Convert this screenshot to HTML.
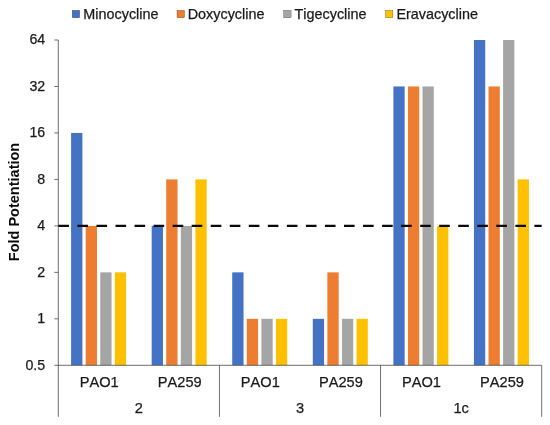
<!DOCTYPE html><html><head><meta charset="utf-8"><title>Fold Potentiation</title><style>html,body{margin:0;padding:0;background:#fff}svg{display:block}</style></head><body><svg width="550" height="425" viewBox="0 0 550 425" font-kerning="none" style="font-kerning:none" font-family="'Liberation Sans', sans-serif">
<rect width="550" height="425" fill="#fff"/>
<rect x="71.10" y="132.94" width="11.3" height="232.36" fill="#4472C4"/>
<rect x="85.67" y="225.89" width="11.3" height="139.41" fill="#ED7D31"/>
<rect x="100.24" y="272.36" width="11.3" height="92.94" fill="#A5A5A5"/>
<rect x="114.81" y="272.36" width="11.3" height="92.94" fill="#FFC000"/>
<rect x="151.67" y="225.89" width="11.3" height="139.41" fill="#4472C4"/>
<rect x="166.24" y="179.41" width="11.3" height="185.89" fill="#ED7D31"/>
<rect x="180.81" y="225.89" width="11.3" height="139.41" fill="#A5A5A5"/>
<rect x="195.38" y="179.41" width="11.3" height="185.89" fill="#FFC000"/>
<rect x="232.23" y="272.36" width="11.3" height="92.94" fill="#4472C4"/>
<rect x="246.80" y="318.83" width="11.3" height="46.47" fill="#ED7D31"/>
<rect x="261.37" y="318.83" width="11.3" height="46.47" fill="#A5A5A5"/>
<rect x="275.94" y="318.83" width="11.3" height="46.47" fill="#FFC000"/>
<rect x="312.80" y="318.83" width="11.3" height="46.47" fill="#4472C4"/>
<rect x="327.37" y="272.36" width="11.3" height="92.94" fill="#ED7D31"/>
<rect x="341.94" y="318.83" width="11.3" height="46.47" fill="#A5A5A5"/>
<rect x="356.51" y="318.83" width="11.3" height="46.47" fill="#FFC000"/>
<rect x="393.37" y="86.47" width="11.3" height="278.83" fill="#4472C4"/>
<rect x="407.94" y="86.47" width="11.3" height="278.83" fill="#ED7D31"/>
<rect x="422.51" y="86.47" width="11.3" height="278.83" fill="#A5A5A5"/>
<rect x="437.08" y="225.89" width="11.3" height="139.41" fill="#FFC000"/>
<rect x="473.93" y="40.00" width="11.3" height="325.30" fill="#4472C4"/>
<rect x="488.50" y="86.47" width="11.3" height="278.83" fill="#ED7D31"/>
<rect x="503.07" y="40.00" width="11.3" height="325.30" fill="#A5A5A5"/>
<rect x="517.64" y="179.41" width="11.3" height="185.89" fill="#FFC000"/>
<g stroke="#4a4a4a" stroke-width="0.8" fill="none">
<line x1="58.3" y1="40.0" x2="58.3" y2="416.8"/>
<line x1="54.3" y1="365.3" x2="541.7" y2="365.3"/>
<line x1="54.3" y1="40.00" x2="58.3" y2="40.00"/>
<line x1="54.3" y1="86.47" x2="58.3" y2="86.47"/>
<line x1="54.3" y1="132.94" x2="58.3" y2="132.94"/>
<line x1="54.3" y1="179.41" x2="58.3" y2="179.41"/>
<line x1="54.3" y1="225.89" x2="58.3" y2="225.89"/>
<line x1="54.3" y1="272.36" x2="58.3" y2="272.36"/>
<line x1="54.3" y1="318.83" x2="58.3" y2="318.83"/>
<line x1="219.43" y1="365.3" x2="219.43" y2="416.8"/>
<line x1="380.57" y1="365.3" x2="380.57" y2="416.8"/>
<line x1="541.70" y1="365.3" x2="541.70" y2="416.8"/>
</g>
<line x1="58.4" y1="225.9" x2="541.7" y2="225.9" stroke="#0a0a0a" stroke-width="2.3" stroke-dasharray="10.6 8.44"/>
<g font-size="14.2" fill="#1a1a1a" stroke="#1a1a1a" stroke-width="0.25" text-anchor="end">
<text x="45.2" y="44.40">64</text>
<text x="45.2" y="90.87">32</text>
<text x="45.2" y="137.34">16</text>
<text x="45.2" y="183.81">8</text>
<text x="45.2" y="230.29">4</text>
<text x="45.2" y="276.76">2</text>
<text x="45.2" y="323.23">1</text>
<text x="45.2" y="369.70">0.5</text>
</g>
<g font-size="14.6" fill="#1a1a1a" stroke="#1a1a1a" stroke-width="0.25" text-anchor="middle">
<text x="99.18" y="387">PAO1</text>
<text x="179.75" y="387">PA259</text>
<text x="260.32" y="387">PAO1</text>
<text x="340.88" y="387">PA259</text>
<text x="421.45" y="387">PAO1</text>
<text x="502.02" y="387">PA259</text>
<text x="138.87" y="413">2</text>
<text x="300.00" y="413">3</text>
<text x="461.13" y="413">1c</text>
</g>
<text transform="translate(19.4,202) rotate(-90)" font-size="14.5" font-weight="bold" fill="#0a0a0a" text-anchor="middle">Fold Potentiation</text>
<g font-size="14.4" fill="#1a1a1a" stroke="#1a1a1a" stroke-width="0.25">
<rect x="72.2" y="10.3" width="7.5" height="7.5" fill="#4472C4"/>
<text x="83.3" y="19.1">Minocycline</text>
<rect x="177.0" y="10.3" width="7.5" height="7.5" fill="#ED7D31"/>
<text x="187.7" y="19.1">Doxycycline</text>
<rect x="283.6" y="10.3" width="7.5" height="7.5" fill="#A5A5A5"/>
<text x="294.5" y="19.1">Tigecycline</text>
<rect x="385.4" y="10.3" width="7.5" height="7.5" fill="#FFC000"/>
<text x="396.4" y="19.1">Eravacycline</text>
</g>
</svg></body></html>
